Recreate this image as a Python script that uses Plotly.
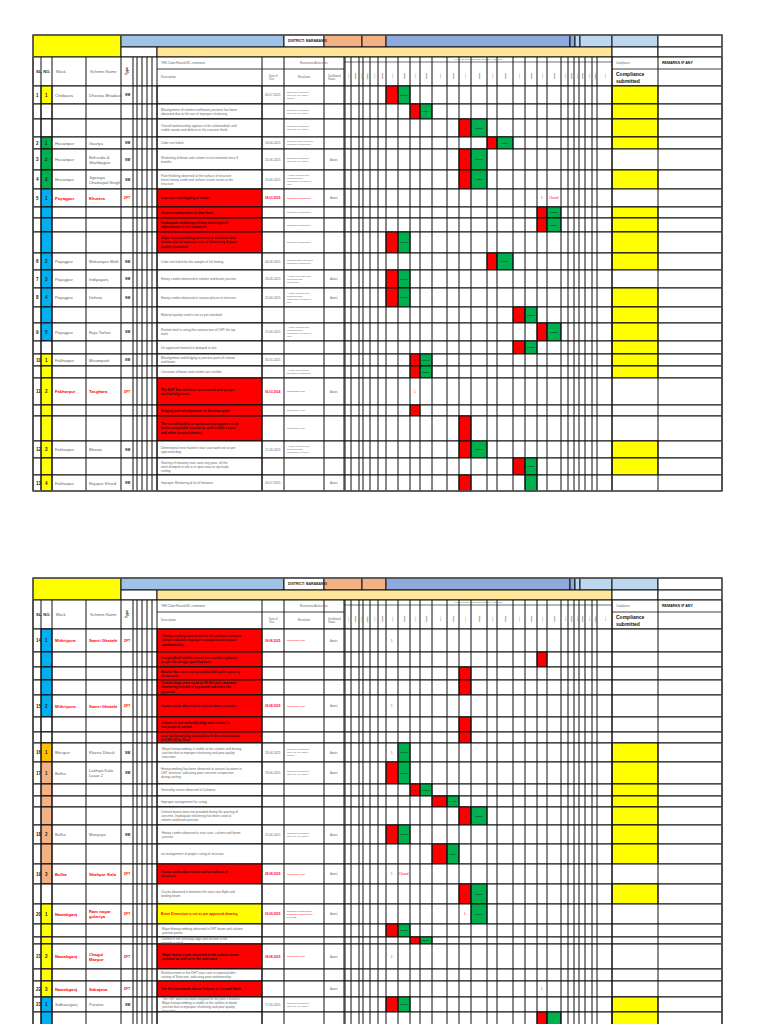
import plotly.graph_objects as go

# ---- column layout (pixel positions on the page) ----
main_cols = [33, 41, 52, 86, 121, 133, 137, 142, 147, 152, 157, 262, 284, 324, 344]
mark_cols = [345, 351, 359, 363, 370, 378, 386, 398, 410, 420, 432, 447, 459, 471, 487,
             497, 513, 525, 537, 547, 561, 568, 574, 579, 585, 592, 597, 612]
end_cols = [612, 658, 722]

# ---- sheet 1 ----
top_edges = [86, 104, 119, 137, 149, 170, 189, 207, 218, 232, 253, 270, 288, 307, 323,
             341, 354, 366, 378, 405, 416, 441, 458, 475, 491]
top_sl = ["1", "", "", "2", "3", "4", "5", "", "", "", "6", "7", "8", "", "9", "", "10", "",
          "11", "", "", "12", "", "13"]
top_sub = ["1", "", "", "1", "2", "3", "1", "", "", "", "2", "3", "4", "", "5", "", "1", "",
           "2", "", "", "3", "", "4"]
top_subc = ["Y", "W", "W", "G", "G", "G", "B", "B", "B", "B", "B", "B", "B", "B", "B", "W",
            "Y", "Y", "Y", "Y", "Y", "Y", "Y", "Y"]
top_block = ["Chitbaura", "", "", "Husainpur", "Husainpur", "Husainpur", "Poyagpur", "", "", "",
             "Poyagpur", "Poyagpur", "Poyagpur", "", "Poyagpur", "", "Fakharpur", "",
             "Fakharpur", "", "", "Fakharpur", "", "Fakharpur"]
top_scheme = ["Dhanwa Bhadauli", "", "", "Gaurya", "Behsuda &<br>Shahbajpur",
              "Jigaraya<br>Chattarpal Singh", "Khutera", "", "", "", "Mohanipur Malli",
              "Indiyaganj", "Dehwa", "", "Raja Tarhat", "", "Misampatti", "", "Tasghara", "", "",
              "Bhawa", "", "Rajapur Khurd"]
top_type = ["SW", "", "", "SW", "SW", "SW", "DFT", "", "", "", "SW", "SW", "SW", "", "SW", "",
            "SW", "", "DFT", "", "", "SW", "", "SW"]
top_desc = [
    "",
    "Misalignment of column and beam junctions has been observed due to the use of improper shuttering",
    "Overall workmanship appears to be substandard, with visible seams and defects in the concrete finish",
    "Cube test failed",
    "Shuttering of beam and column is not removed since 3 months",
    "Poor finishing observed at the surface of structure mirror honey comb and surface cracks exists at the structure",
    "Improper overlapping of rebars",
    "Incorrect placement of chair bars.",
    "Inadequate anchoring of bars and required adjustments in the formwork",
    "Major honeycombing observed in structure and beams due to improper use of shuttering & poor quality execution",
    "Cube test failed for the sample of 1st footing",
    "Honey combs observed in column and beam junction",
    "Honey combs observed at various places in structure",
    "Material quality used is not as per standard",
    "Rusted steel is using the construction of CHT the top work",
    "Un approved material is dumped at site",
    "Misalignment and bulging at junction point of column and beam",
    "Corrosion of beam and column are visisble",
    "The DHT has not been constructed with proper vertical alignment.",
    "Bulging and misalignment at Junction point",
    "The overall quality of workmanship appears to be below acceptable standards, with visible seams and other inconsistencies",
    "Dimensional error found in stair case work not as per approved dwg",
    "Starting of masonry stair case very poor, all the steel dumped at site is in open area to top leads rusting",
    "Improper Shuttering & lot of footwear",
]
top_fill = ["W", "W", "W", "W", "W", "W", "R", "R", "R", "R", "W", "W", "W", "W", "W", "W",
            "W", "W", "R", "R", "R", "W", "W", "W"]
top_date = ["06-07-2025", "", "", "16-06-2025", "20-06-2025", "20-06-2025", "08-03-2025", "", "",
            "", "06-06-2025", "26-06-2025", "25-06-2025", "", "25-06-2025", "", "30-05-2025", "",
            "06-03-2024", "", "", "17-06-2025", "", "06-07-2025"]
top_status = ["Sacrificial & samples NOT Put. Re-Notice issued", "Sacrificial & samples NOT Put. Re-Notice",
              "Sacrificial & samples NOT Put. Re-Notice", "Rectified NOT Complied Submitted Compliance",
              "Sacrificial & samples NOT Put. Re-Notice", "Already rectified and submitted with compliance on today & time",
              "Submitted Compliance", "Submitted Compliance", "Submitted Compliance", "Submitted Compliance",
              "Rectified NOT Complied Submitted Compliance", "Already corrected and submitted with compliance",
              "Already rectified and submitted with compliance on today & time", "",
              "Already rectified and submitted with compliance on today & time", "", "",
              "Already Corrected & Submitted Compliance", "Rectification WIP", "Rectification WIP",
              "Rectification WIP", "Already rectified and submitted with compliance on today", "", ""]
top_dash = ["", "", "", "", "Awaits", "", "Awaits", "", "", "", "", "Awaits", "Awaits", "", "", "",
            "", "", "Awaits", "", "", "", "", "Awaits"]
top_marks = [[(6, "R"), (7, "G")], [(8, "R"), (9, "G")], [(12, "R"), (13, "G")],
             [(14, "R"), (15, "G")], [(12, "R"), (13, "G")], [(12, "R"), (13, "G")],
             [(18, "t"), (19, "c")], [(18, "R"), (19, "G")], [(18, "R"), (19, "G")],
             [(6, "R"), (7, "G")], [(14, "R"), (15, "G")], [(6, "R"), (7, "G")],
             [(6, "R"), (7, "G")], [(16, "R"), (17, "G")], [(18, "R"), (19, "G")],
             [(16, "R"), (17, "G")], [(8, "R"), (9, "G")], [(8, "R"), (9, "G")],
             [(8, "t")], [(8, "R")], [(12, "R")], [(12, "R"), (13, "G")],
             [(16, "R"), (17, "G")], [(12, "R"), (17, "g")]]
top_comply = [1, 1, 1, 1, 0, 1, 0, 1, 1, 1, 1, 0, 1, 1, 1, 1, 1, 1, 0, 0, 0, 1, 1, 0]

# ---- sheet 2 ----
bot_edges = [629, 652, 667, 680, 695, 717, 732, 743, 762, 784, 796, 807, 825, 844, 864, 884,
             904, 924, 937, 944, 969, 981, 997, 1012, 1030]
bot_sl = ["14", "", "", "", "15", "", "", "16", "17", "", "", "", "18", "", "19", "", "20", "",
          "", "21", "", "22", "23", ""]
bot_sub = ["1", "", "", "", "2", "", "", "1", "1", "", "", "", "2", "", "3", "", "1", "", "",
           "2", "", "3", "1", ""]
bot_subc = ["B", "B", "B", "B", "B", "W", "W", "O", "S", "S", "S", "S", "S", "S", "S", "W", "Y",
            "Y", "Y", "Y", "Y", "Y", "B", "B"]
bot_block = ["Mithripura", "", "", "", "Mithripura", "", "", "Bhrupur", "Bulha", "", "", "",
             "Bulha", "", "Bulha", "", "Nawabganj", "", "", "Nawabganj", "", "Nawabganj",
             "Sidhaurganj", ""]
bot_scheme = ["Samri Ghatahi", "", "", "", "Samri Ghatahi", "", "", "Kharra Dhauli",
              "Lakhiya Kala<br>Lauar 2", "", "", "", "Manjaiya", "", "Shahpur Kala", "",
              "Ram nagar<br>gulariya", "", "", "Chagol<br>Mazpur", "", "Sabajana", "Puraina", ""]
bot_type = ["DFT", "", "", "", "DFT", "", "", "SW", "SW", "", "", "", "SW", "", "DFT", "", "DFT",
            "", "", "DFT", "", "DFT", "SW", ""]
bot_desc = [
    "Honeycombing was found on the column surfaces, which indicates improper compaction and poor workmanship.",
    "Longitudinal reinforcement has not been placed as per the design specifications",
    "Anchor bars were not provided during the pouring of concrete",
    "Cement bags were used to fill the gaps between shuttering instead of approved materials like plywood",
    "Honey comb observed at column beam junction",
    "Column is not vertically align and section is not properly casted",
    "poor workmanship and quality in the construction of CHT till its Roof",
    "Major honeycombing is visible at the column and beaing junction due to improper shuttering and poor quality execution",
    "Honeycombing has been observed at various locations in CHT structure, indicating poor concrete compaction during casting",
    "Verticality issues observed in Columns",
    "Improper arrangement for curing",
    "Cement boxes were not provided during the pouring of concrete. Inadequate shuttering has been used at column and beam junction",
    "Honey combs observed in stair case, column and beam junction",
    "no arrangement of proper curing of structure",
    "Honey comb observed at various places in structure",
    "Cracks observed in between the stair case flight and landing beam.",
    "Brace Dimension is not as per approved drawing",
    "Major Honeycombing observed in DFT beam and column junction points",
    "Column is not vertically align and section is not properly casted",
    "Major honey comb observed at the column beam junction as well as in the stair case",
    "Reinforcement in the DHT stair case is exposed after casting of Staircase, indicating poor workmanship",
    "The Reinforcement above Column is Cut and Shaft",
    "The CHT work has been stopped for the past 3 months. Major honeycombing is visible at the column to beam junction due to improper shuttering and poor quality execution",
    "All the exposed steel in the structure has started to rust due to prolonged exposure",
]
bot_fill = ["R", "R", "R", "R", "R", "R", "R", "W", "W", "W", "W", "W", "W", "W", "R", "W", "Y",
            "W", "W", "R", "W", "R", "W", "W"]
bot_date = ["09-08-2025", "", "", "", "09-08-2025", "", "", "28-06-2025", "29-06-2025", "", "", "",
            "25-06-2025", "", "28-08-2025", "", "03-09-2025", "", "", "08-08-2025", "", "", "17-06-2025", ""]
bot_status = ["Rectification WIP", "", "", "", "Rectification WIP", "", "",
              "Sacrificial & samples NOT Put. Re-Notice issued", "Sacrificial & samples NOT Put. Re-Notice",
              "", "", "", "Sacrificial & samples NOT Put. Re-Notice", "", "Rectification WIP", "",
              "Rectified & Compliance Submitted Manual Reply 04.09.25", "", "", "Rectification WIP", "",
              "", "Sacrificial & samples NOT Put. Re-Notice", "Sacrificial & samples"]
bot_dash = ["Awaits", "", "", "", "Awaits", "", "", "Awaits", "Awaits", "", "", "", "Awaits", "",
            "Awaits", "", "Awaits", "", "", "Awaits", "", "Awaits", "", ""]
bot_marks = [[(6, "t")], [(18, "R")], [(12, "R")], [(12, "R")], [(6, "t")], [(12, "R")],
             [(12, "R")], [(6, "t"), (7, "G")], [(6, "R"), (7, "G")], [(8, "R"), (9, "G")],
             [(10, "R"), (11, "G")], [(12, "R"), (13, "G")], [(6, "R"), (7, "G")],
             [(10, "R"), (11, "G")], [(6, "t"), (7, "c")], [(12, "R"), (13, "G")],
             [(12, "t"), (13, "G")], [(6, "R"), (7, "G")], [(8, "R"), (9, "G")], [(6, "t")],
             [], [(18, "t")], [(6, "R"), (7, "G")], [(18, "R"), (19, "G")]]
bot_comply = [0, 0, 0, 0, 0, 0, 0, 1, 1, 1, 1, 1, 1, 1, 0, 1, 0, 0, 0, 0, 0, 0, 1, 1]

colours = {"Y": "#FFFF00", "G": "#00B050", "B": "#00B0F0", "R": "#FF0000", "W": "#FFFFFF",
           "S": "#F4B183", "O": "#FFC000"}

fig = go.Figure()
fig.add_trace(go.Scatter(x=[8, 776], y=[8, 1032], mode="markers", marker_opacity=0,
                         hoverinfo="skip", showlegend=False))
shapes, notes = [], []


def rect(x0, y0, x1, y1, fill, lw=1, lc="#111"):
    shapes.append(dict(type="rect", x0=x0, y0=y0, x1=x1, y1=y1, fillcolor=fill,
                       line=dict(width=lw, color=lc), layer="below"))


def text(x, y, s, size=4, color="#666", bold=False, anchor="left", angle=0):
    if not s:
        return
    if bold:
        s = "<b>" + s + "</b>"
    notes.append(dict(x=x, y=y, text=s, showarrow=False, xanchor=anchor, yanchor="middle",
                      textangle=angle, align="left",
                      font=dict(size=size, color=color, family="Liberation Sans")))


def wrap(s, n):
    words, lines, cur = s.split(), [], ""
    for w in words:
        if len(cur) + len(w) + 1 > n and cur:
            lines.append(cur)
            cur = w
        else:
            cur = (cur + " " + w).strip()
    if cur:
        lines.append(cur)
    return "<br>".join(lines)


def sheet(off, edges, sl, sub, subc, block, scheme, typ, desc, fill, date, status, dash, marks, comply):
    y = lambda v: v + off
    bottom = min(y(edges[-1]), 1034)
    # banner rows
    rect(33, y(35), 121, y(57), "#FFFF00")
    rect(121, y(35), 284, y(47), "#9DC3E6")
    rect(284, y(35), 324, y(47), "#FFFFFF")
    text(286, y(41), "DISTRICT: BARABANKI", 3.5, "#222", True)
    rect(324, y(35), 362, y(47), "#F4B183")
    rect(362, y(35), 386, y(47), "#F4B183")
    rect(386, y(35), 570, y(47), "#8EA9DB")
    rect(570, y(35), 575, y(47), "#8EA9DB")
    rect(575, y(35), 580, y(47), "#BDD7EE")
    rect(580, y(35), 612, y(47), "#BDD7EE")
    rect(612, y(35), 658, y(47), "#BDD7EE")
    rect(658, y(35), 722, y(47), "#FFFFFF")
    rect(121, y(47), 157, y(57), "#FFFFFF")
    rect(157, y(47), 612, y(57), "#FFE699")
    rect(612, y(47), 658, y(57), "#FFFFFF")
    rect(658, y(47), 722, y(57), "#FFFFFF")
    # header block
    rect(33, y(57), 722, y(86), "#FFFFFF")
    for c in main_cols + mark_cols + end_cols:
        shapes.append(dict(type="line", x0=c, x1=c, y0=y(57), y1=bottom,
                           line=dict(width=1, color="#111")))
    for a, b in [(157, 344), (612, 722)]:
        shapes.append(dict(type="line", x0=a, x1=b, y0=y(69), y1=y(69), line=dict(width=0.8, color="#111")))
    shapes.append(dict(type="line", x0=344, x1=612, y0=y(62), y1=y(62), line=dict(width=0.6, color="#111")))
    text(34, y(71), "SL. NO.", 4, "#222", True)
    text(54, y(71), "Block", 4)
    text(88, y(71), "Scheme Name", 4)
    text(127, y(71), "Type", 3.5, "#222", True, "center", -90)
    text(159, y(63), "THS Claim Raised BC comments", 3)
    text(159, y(77), "Description", 3)
    text(273, y(77), "Date of<br>Visit", 2.6, anchor="center")
    text(314, y(63), "Round-wise/Action data", 2.6, anchor="center")
    text(304, y(77), "Resolution", 2.6, anchor="center")
    text(334, y(77), "Dashboard<br>Status", 2.6, anchor="center")
    text(478, y(59), "TYPE OF BUILDING DEFICIENCY / STATUS", 2.4, anchor="center")
    text(614, y(63), "Compliance", 2.6)
    text(614, y(77), "Compliance<br>submitted", 5, "#111", True)
    text(660, y(63), "REMARKS IF ANY", 3.6, "#111", True)
    for i in range(len(mark_cols) - 1):
        cx = (mark_cols[i] + mark_cols[i + 1]) / 2
        text(cx, y(76), "Status" if i % 2 else "Defect", 2, "#444", i % 2 == 1, "center", -90)
    # data rows
    for i in range(len(sl)):
        t, b = y(edges[i]), min(y(edges[i + 1]), 1034)
        if t >= 1030:
            break
        m = (t + b) / 2
        red_row = typ[i] == "DFT"
        rect(33, t, 722, b, "#FFFFFF")
        rect(41, t, 52, b, colours[subc[i]])
        rect(157, t, 262, b, colours[fill[i]])
        if comply[i]:
            rect(612, t, 658, b, "#FFFF00")
        for col, kind in marks[i]:
            x0, x1 = mark_cols[col], mark_cols[col + 1]
            if kind == "R":
                rect(x0, t, x1, b, "#FF0000")
            elif kind in "Gg":
                rect(x0, t, x1, b, "#00B050")
        if b > 1024:
            continue
        tc = "#FF0000" if red_row else "#666"
        text(34, m, sl[i], 4.5, "#222", True)
        text(46.5, m, sub[i], 4.5, "#222", True, "center")
        text(53, m, block[i], 4.2, tc, red_row)
        text(87, m, scheme[i], 4.2, tc, red_row)
        text(127, m, typ[i], 3.2, "#FF0000" if red_row else "#111", True, "center")
        dcol = "#FF0000" if fill[i] == "Y" else ("#111" if fill[i] == "R" else "#666")
        text(159, m, wrap(desc[i], 54 if fill[i] == "W" else 48), 3.2 if fill[i] == "W" else 3.3,
             dcol, fill[i] != "W")
        red_info = fill[i] in "RY" and typ[i] == "DFT"
        text(273, m, date[i], 3, "#FF0000" if red_info else "#666", red_info, "center")
        text(285, m, wrap(status[i], 24), 2.4, "#FF0000" if red_info else "#666")
        text(334, m, dash[i], 2.6, "#666", False, "center")
        for col, kind in marks[i]:
            cx = (mark_cols[col] + mark_cols[col + 1]) / 2
            if kind == "R":
                text(cx, m, "1", 2.4, "#111", False, "center")
            elif kind == "G":
                text(cx, m, "Closed", 2.4, "#111", False, "center")
            elif kind == "t":
                text(cx, m, "1", 3, "#FF0000", False, "center")
            elif kind == "c":
                text(cx, m, "Closed", 3, "#FF0000", False, "center")
    # outer frame
    shapes.append(dict(type="rect", x0=33, x1=722, y0=y(35), y1=bottom,
                       line=dict(width=1.5, color="#555"), layer="above"))


sheet(0, top_edges, top_sl, top_sub, top_subc, top_block, top_scheme, top_type, top_desc,
      top_fill, top_date, top_status, top_dash, top_marks, top_comply)
sheet(543, [e - 543 for e in bot_edges], bot_sl, bot_sub, bot_subc, bot_block, bot_scheme,
      bot_type, bot_desc, bot_fill, bot_date, bot_status, bot_dash, bot_marks, bot_comply)

# page body has an 8px margin, so the visible window starts at 8
fig.update_layout(width=768, height=1024, margin=dict(l=0, r=0, t=0, b=0),
                  paper_bgcolor="white", plot_bgcolor="white", shapes=shapes, annotations=notes,
                  xaxis=dict(range=[8, 776], visible=False, fixedrange=True),
                  yaxis=dict(range=[1032, 8], visible=False, fixedrange=True))
fig.write_html("out.html")
